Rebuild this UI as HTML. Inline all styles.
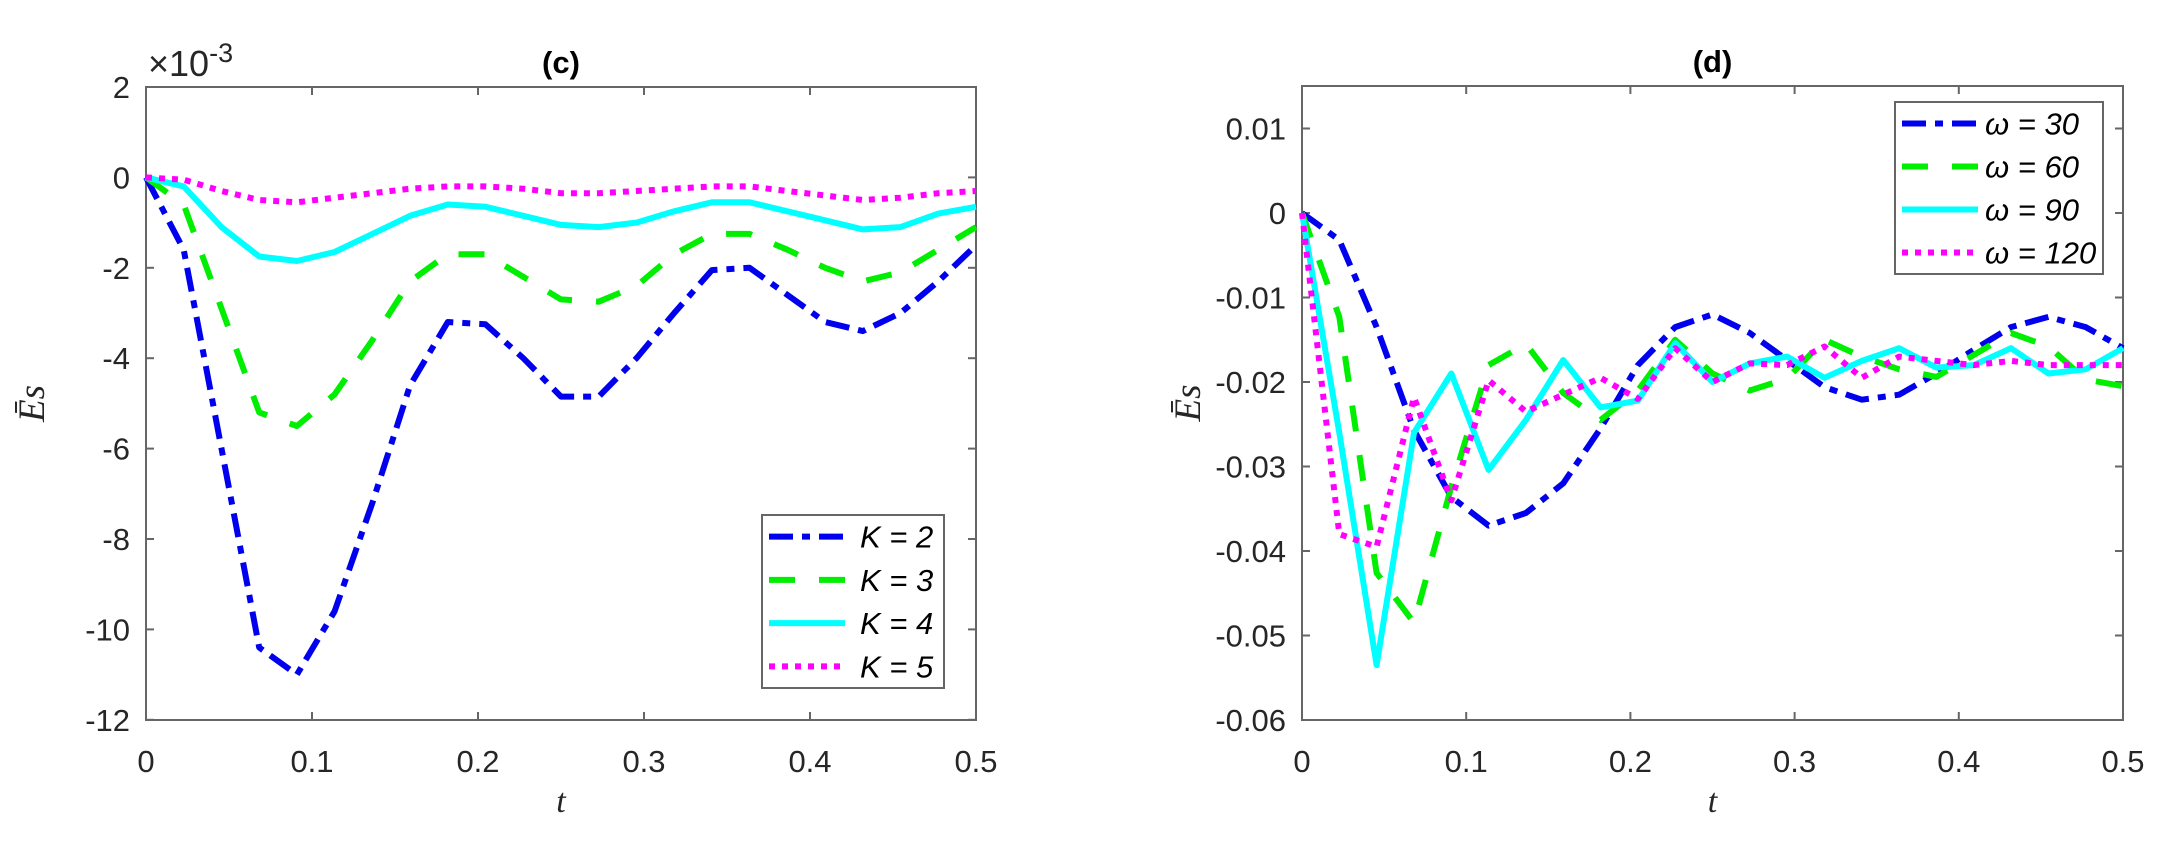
<!DOCTYPE html>
<html><head><meta charset="utf-8"><style>
html,body{margin:0;padding:0;background:#fff;width:2178px;height:846px;overflow:hidden}
</style></head><body>
<svg id="s" width="2178" height="846" xmlns="http://www.w3.org/2000/svg" font-family="Liberation Sans, sans-serif"></svg>
<script>
const S=document.getElementById('s');let h='';
function ax(x0,x1,y0,y1,yt,ymap,ylabels,title,tx){
  h+=`<rect x="${x0}" y="${y0}" width="${x1-x0}" height="${y1-y0}" fill="none" stroke="#666" stroke-width="2"/>`;
  for(let i=0;i<=5;i++){const x=x0+(x1-x0)*i/5;
    h+=`<line x1="${x}" y1="${y1}" x2="${x}" y2="${y1-8}" stroke="#666" stroke-width="2"/><line x1="${x}" y1="${y0}" x2="${x}" y2="${y0+8}" stroke="#666" stroke-width="2"/>`;
    h+=`<text x="${x}" y="${y1+52}" font-size="31" fill="#262626" text-anchor="middle">${i==0?'0':(i/10)}</text>`;}
  yt.forEach((v,k)=>{const y=ymap(v);
    h+=`<line x1="${x0}" y1="${y}" x2="${x0+8}" y2="${y}" stroke="#666" stroke-width="2"/><line x1="${x1}" y1="${y}" x2="${x1-8}" y2="${y}" stroke="#666" stroke-width="2"/>`;
    h+=`<text x="${x0-16}" y="${y+11}" font-size="31" fill="#262626" text-anchor="end">${ylabels[k]}</text>`;});
  h+=`<text x="${(x0+x1)/2}" y="${y0-14}" font-size="31" font-weight="bold" fill="#000" text-anchor="middle">${title}</text>`;
  h+=`<text x="${(x0+x1)/2}" y="${y1+92}" font-size="34" font-style="italic" font-family="Liberation Serif, serif" fill="#262626" text-anchor="middle">t</text>`;
  h+=`<text transform="translate(${tx},${(y0+y1)/2}) rotate(-90)" font-size="37" font-style="italic" font-family="Liberation Serif, serif" fill="#262626" text-anchor="middle">Ē<tspan font-style="italic">s</tspan></text>`;
}
const st=[
 {c:'#0000ee',d:'24 9 8 9'},{c:'#00ee00',d:'26 24'},{c:'#00ffff',d:''},{c:'#ff00ff',d:'6 7'}];
function line(data,xm,ym,k){
  const pts=data.map((v,i)=>xm(i*0.5/22).toFixed(1)+','+ym(v).toFixed(1)).join(' ');
  h+=`<polyline points="${pts}" fill="none" stroke="${st[k].c}" stroke-width="6" stroke-dasharray="${st[k].d}" stroke-linejoin="round"/>`;
}
function legend(x0,y0,x1,y1,labels,sep){
  h+=`<rect x="${x0}" y="${y0}" width="${x1-x0}" height="${y1-y0}" fill="#fff" stroke="#666" stroke-width="2"/>`;
  const dy=(y1-y0)/4;
  labels.forEach((l,k)=>{const y=y0+dy*(k+0.5);
    h+=`<line x1="${x0+7}" y1="${y}" x2="${x0+83}" y2="${y}" stroke="${st[k].c}" stroke-width="6" stroke-dasharray="${st[k].d}"/>`;
    h+=`<text x="${x0+sep}" y="${y+11}" font-size="31" font-style="italic" fill="#000">${l}</text>`;});
}
const lx0=146,lx1=976,ly0=87,ly1=720;
const lxm=t=>lx0+t*(lx1-lx0)/0.5, lym=v=>177.4-v*45.2;
ax(lx0,lx1,ly0,ly1,[2,0,-2,-4,-6,-8,-10,-12],lym,['2','0','-2','-4','-6','-8','-10','-12'],'(c)',44);
h+=`<text x="148" y="76" font-size="36" fill="#262626">×10<tspan font-size="27" dy="-14">-3</tspan></text>`;
const L=[
[0,-1.6,-6,-10.4,-11,-9.6,-7.2,-4.6,-3.2,-3.25,-4,-4.85,-4.85,-4,-3,-2.05,-2,-2.6,-3.2,-3.4,-3,-2.3,-1.5],
[0,-0.6,-2.9,-5.2,-5.5,-4.8,-3.6,-2.3,-1.7,-1.7,-2.2,-2.7,-2.75,-2.4,-1.7,-1.25,-1.25,-1.6,-2.0,-2.3,-2.1,-1.6,-1.1],
[0,-0.2,-1.1,-1.75,-1.85,-1.65,-1.25,-0.85,-0.6,-0.65,-0.85,-1.05,-1.1,-1.0,-0.75,-0.55,-0.55,-0.75,-0.95,-1.15,-1.1,-0.8,-0.65],
[0,-0.05,-0.3,-0.5,-0.55,-0.45,-0.35,-0.25,-0.2,-0.2,-0.25,-0.35,-0.35,-0.3,-0.25,-0.2,-0.2,-0.3,-0.4,-0.5,-0.45,-0.35,-0.3]];
L.forEach((d,k)=>line(d,lxm,lym,k));
legend(762,515,944,688,['K = 2','K = 3','K = 4','K = 5'],98);
const rx0=1302,rx1=2123,ry0=86,ry1=720;
const rxm=t=>rx0+t*(rx1-rx0)/0.5, rym=v=>213-v*8450;
ax(rx0,rx1,ry0,ry1,[0.01,0,-0.01,-0.02,-0.03,-0.04,-0.05,-0.06],rym,['0.01','0','-0.01','-0.02','-0.03','-0.04','-0.05','-0.06'],'(d)',1200);
const R=[
[0,-0.0032,-0.0135,-0.0257,-0.0336,-0.037,-0.0355,-0.032,-0.0255,-0.018,-0.0135,-0.012,-0.0142,-0.0174,-0.0206,-0.0221,-0.0215,-0.019,-0.0162,-0.0135,-0.0123,-0.0135,-0.016],
[0,-0.0123,-0.0426,-0.0485,-0.0324,-0.018,-0.0155,-0.0213,-0.0245,-0.021,-0.015,-0.019,-0.021,-0.0196,-0.015,-0.017,-0.0185,-0.0194,-0.0168,-0.0142,-0.0158,-0.0197,-0.0205],
[0,-0.026,-0.0535,-0.026,-0.019,-0.0304,-0.0245,-0.0174,-0.023,-0.0222,-0.0154,-0.02,-0.0178,-0.017,-0.0195,-0.0175,-0.016,-0.0183,-0.018,-0.016,-0.019,-0.0185,-0.016],
[0,-0.038,-0.0395,-0.0218,-0.034,-0.0198,-0.0235,-0.0215,-0.0195,-0.022,-0.016,-0.02,-0.0178,-0.018,-0.0158,-0.0195,-0.017,-0.0175,-0.018,-0.0175,-0.018,-0.018,-0.018]];
R.forEach((d,k)=>line(d,rxm,rym,k));
legend(1895,102,2103,274,['ω = 30','ω = 60','ω = 90','ω = 120'],90);
S.innerHTML=h;
</script>
</body></html>
